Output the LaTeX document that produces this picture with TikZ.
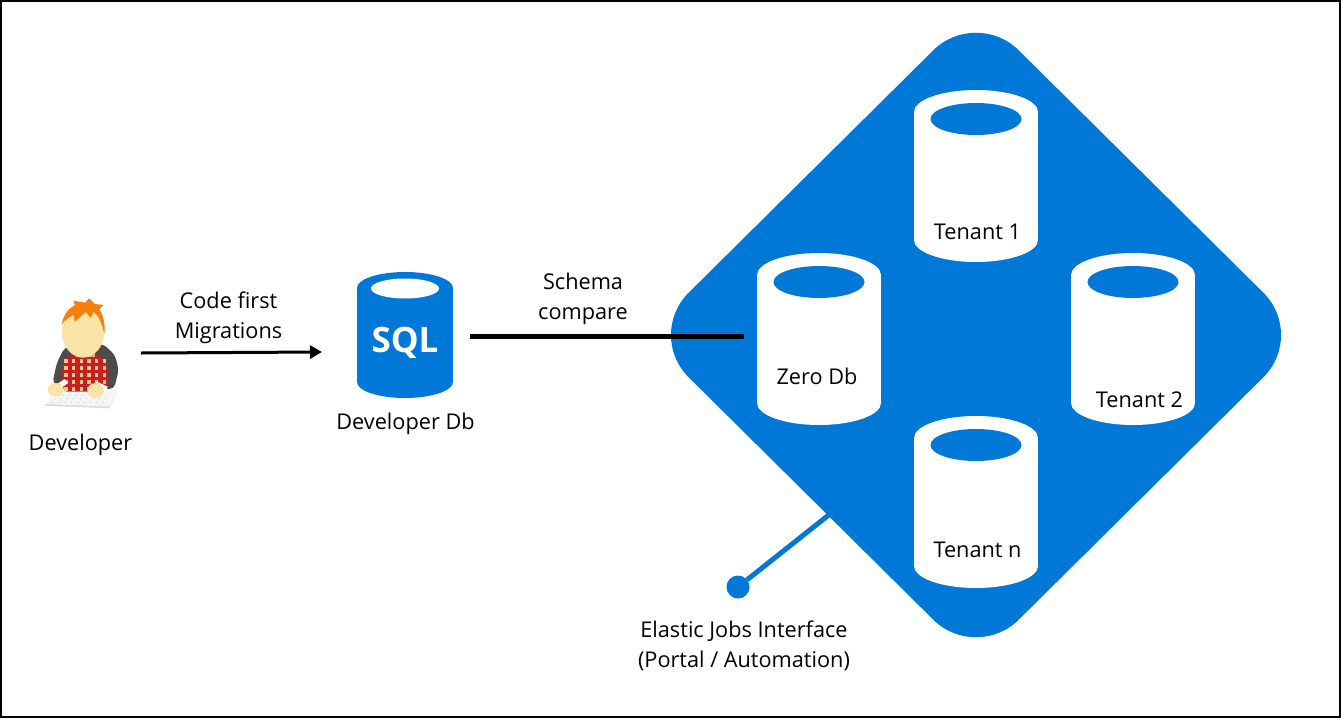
\documentclass[tikz,border=0pt]{standalone}
\usepackage{fontspec}
\setmainfont{Open Sans}
\usetikzlibrary{arrows.meta,positioning,shapes.geometric}
\definecolor{azure}{HTML}{0078D7}
\definecolor{hair}{HTML}{F57F0F}
\definecolor{skin}{HTML}{FAE3A6}
\definecolor{sweater}{HTML}{C8201F}
\definecolor{chair}{HTML}{4C4C4C}
\tikzset{%
  label/.style={font=\fontsize{21.7}{30}\selectfont,inner sep=0pt,align=center},
  dbbody/.style={rectangle,fill=white,minimum width=124pt,minimum height=128pt,
    inner sep=0pt,outer sep=0pt},
  dbcap/.style={ellipse,fill=white,minimum width=124pt,minimum height=44pt,
    inner sep=0pt,outer sep=0pt},
  dbhole/.style={ellipse,fill=azure,minimum width=91pt,minimum height=32pt,
    inner sep=0pt,outer sep=0pt},
}
\begin{document}
\begin{tikzpicture}[x=1pt,y=-1pt]
  \useasboundingbox (0,0) rectangle (1341,718);
  \fill[white] (0,0) rectangle (1341,718);

  % the elastic pool
  \node[diamond,aspect=1,fill=azure,rounded corners=60pt,inner sep=0pt,outer sep=0pt,
    minimum width=660pt,minimum height=654pt] (pool) at (976,335) {};

  \foreach \db/\x/\y in {zero/819/339,t1/976/176,t2/1133/339,tn/976/502} {
    \node[dbbody] (\db) at (\x,\y) {};
    \node[dbcap] (\db top) at (\x,\y-64) {};
    \node[dbcap] (\db bot) at (\x,\y+64) {};
    \node[dbhole] (\db hole) at (\x,\y-57) {};
  }

  \node[label] (zerotxt) at (817,376) {Zero Db};
  \node[label] (t1txt) at (977.5,232) {Tenant 1};
  \node[label] (t2txt) at (1139.5,400) {Tenant 2};
  \node[label] (tntxt) at (977.5,550) {Tenant n};

  % developer db
  \node[rectangle,fill=azure,inner sep=0pt,outer sep=0pt,
    minimum width=96pt,minimum height=94pt] (devdb) at (405,335) {};
  \node[ellipse,fill=azure,minimum width=96pt,minimum height=32pt,inner sep=0pt] (devdbtop) at (405,288) {};
  \node[ellipse,fill=azure,minimum width=96pt,minimum height=32pt,inner sep=0pt] (devdbbot) at (405,382) {};
  \node[ellipse,fill=white,minimum width=68pt,minimum height=20pt,inner sep=0pt] (devhole) at (405,288.5) {};
  \node[font=\fontsize{35}{35}\selectfont\bfseries,text=white,inner sep=0pt] (sql) at (405,343) {SQL};
  \node[label] (devdbtxt) at (405.5,423.5) {Developer Db};

  % the developer
  \begin{scope}[shift={(20,280)},scale=1/3]
    \fill[chair,rounded corners=5pt] (97,312) -- (110,250) -- (135,200) -- (250,192)
      -- (285,225) -- (296,270) -- (282,328) -- cycle;
    \fill[sweater,rounded corners=3pt] (132,335) -- (124,290) -- (130,242) -- (165,215)
      -- (225,218) -- (258,245) -- (264,300) -- (255,335) -- cycle;
    \foreach \i in {0,...,5} \foreach \j in {0,...,4}
      \node[fill=skin!85!sweater,inner sep=0pt,minimum size=3.5pt] (knit\i\j)
        at (138+23*\i,243+21*\j) {};
    \fill[skin!70!sweater] (168,205) rectangle (225,230);
    \fill[black!15] (97,345) -- (290,337) -- (268,385) -- (74,377) -- cycle;
    \fill[black!4] (97,342) -- (290,334) -- (270,380) -- (76,372) -- cycle;
    \foreach \i in {0,...,8} \foreach \j in {0,1,2}
      \fill[black!22] (112+19*\i-7*\j,345+11*\j) circle (2);
    \fill[white,rotate around={35:(122,315)}] (100,307) rectangle (142,323);
    \fill[white,rotate around={-25:(240,318)}] (222,310) rectangle (262,326);
    \fill[skin] (107,329) ellipse (24 and 20);
    \fill[skin] (226,331) ellipse (24 and 22);
    \fill[skin] (189,155) ellipse (64 and 78);
    \fill[hair] (125,135) .. controls (130,105) and (145,85) .. (165,75)
      -- (160,62) -- (195,68) -- (208,55) -- (225,72) -- (250,75) -- (238,88)
      .. controls (252,110) and (256,135) .. (253,162)
      .. controls (245,125) and (235,105) .. (220,95)
      -- (212,115) -- (198,95) -- (165,125) -- (160,105) .. controls (140,115) and (130,125) .. (125,135) -- cycle;
  \end{scope}
  \node[label] (devtxt) at (80.5,444.5) {Developer};

  % connectors
  \coordinate (migstart) at (141,353);
  \coordinate (migend) at (322,352);
  \draw[line width=3pt,-{Stealth[length=12pt,width=13pt,inset=0pt]}] (migstart) -- (migend);
  \draw[line width=5pt,shorten <=17pt,shorten >=13pt] (devdb.east |- 0,336) -- (zero.west |- 0,336);

  \node[circle,fill=azure,minimum size=23pt,inner sep=0pt,outer sep=0pt] (jobdot) at (738,587) {};
  \coordinate (jobend) at (835,510);
  \draw[azure,line width=5pt] (jobdot) -- (jobend);

  \node[label] (migtxt) at (228.5,317.5) {Code first\\Migrations};
  \node[label] (schematxt) at (583,299) {Schema\\compare};
  \node[label] (jobtxt) at (744,646) {Elastic Jobs Interface\\(Portal / Automation)};

  \draw[line width=2pt] (1,1) rectangle (1340,717);
\end{tikzpicture}
\end{document}
